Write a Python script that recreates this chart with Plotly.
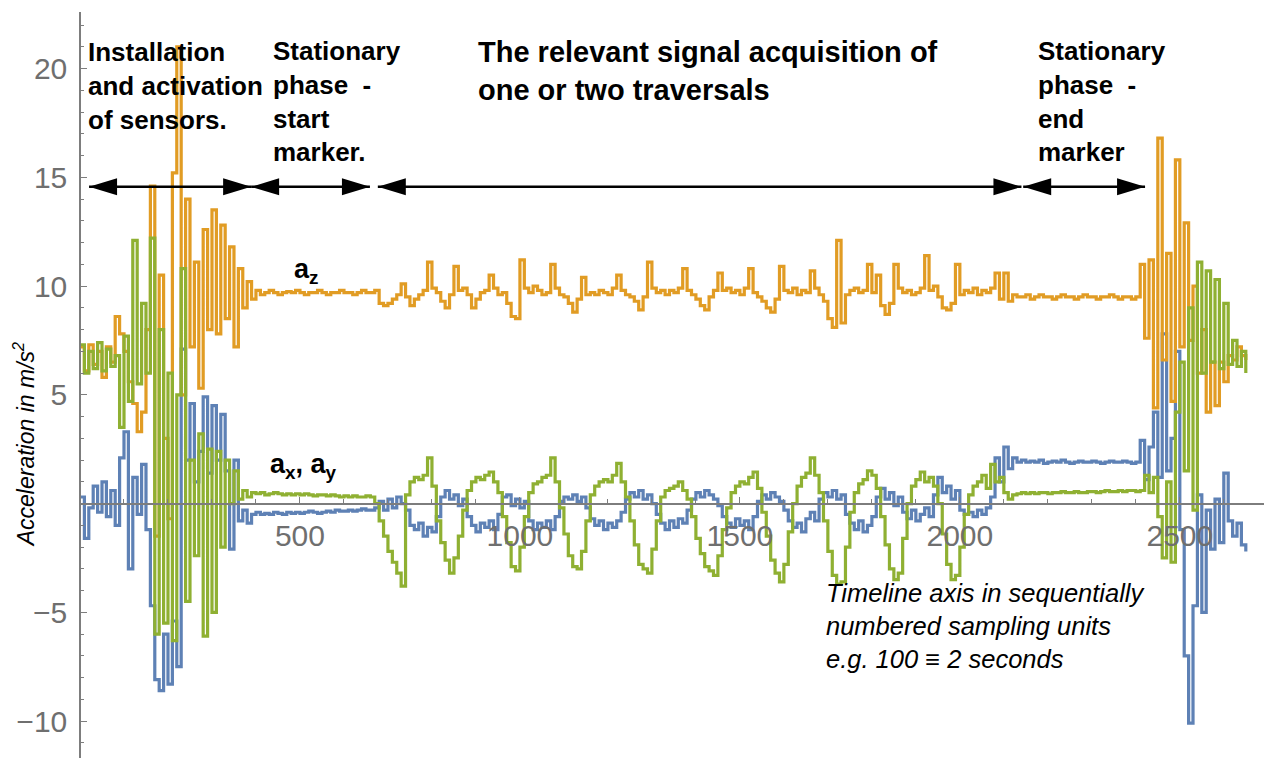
import plotly.graph_objects as go

# sample numbers (every 10th sampling unit)
sample_index = list(range(0, 2660, 10))

# a_z (orange)
az_values = [
    7.2, 6.1, 7.3, 6.4, 7.0, 5.8, 7.2, 6.5, 8.6, 7.8,
    7.0, 5.6, 4.6, 3.3, 4.2, 8.0, 14.6, -1.5, 10.5, 3.0,
    -0.7, 15.2, 21.0, 5.0, 14.0, 7.2, 11.1, 5.3, 12.6, 8.0,
    13.5, 7.8, 12.8, 8.5, 11.8, 7.2, 10.8, 9.0, 10.2, 9.4,
    9.8, 9.6, 9.7, 9.8, 9.7, 9.6, 9.7, 9.75, 9.7, 9.8,
    9.7, 9.6, 9.7, 9.7, 9.8, 9.7, 9.6, 9.7, 9.7, 9.8,
    9.7, 9.7, 9.6, 9.7, 9.8, 9.7, 9.7, 9.8, 9.2, 9.1,
    9.2, 9.4, 9.6, 10.1, 9.5, 9.1, 9.4, 9.6, 9.8, 11.1,
    9.9, 9.7, 9.3, 9.0, 9.6, 10.9, 9.8, 9.9, 9.6, 9.0,
    9.4, 9.7, 9.8, 10.5, 9.9, 9.6, 9.7, 9.2, 8.6, 8.5,
    11.2, 9.9, 9.7, 10.0, 9.8, 9.6, 9.7, 11.0, 9.9, 9.6,
    9.5, 9.2, 8.8, 9.4, 10.4, 9.6, 9.7, 9.6, 9.8, 9.7,
    9.6, 9.9, 10.5, 9.8, 9.6, 9.5, 9.3, 8.9, 9.5, 11.1,
    9.9, 9.7, 9.8, 9.6, 9.8, 9.7, 9.9, 10.8, 9.8, 9.6,
    9.4, 9.1, 8.9, 9.5, 9.8, 10.6, 9.8, 9.9, 9.7, 9.8,
    9.6, 9.9, 10.8, 9.7, 9.5, 9.3, 9.0, 8.8, 9.4, 10.9,
    9.8, 9.7, 9.9, 9.6, 9.8, 9.7, 10.7, 9.9, 9.6, 9.3,
    8.5, 8.1, 12.1, 8.3, 9.6, 9.8, 9.9, 9.7, 9.8, 11.0,
    9.7, 10.5, 9.1, 8.7, 9.2, 11.0, 9.9, 9.7, 9.8, 9.6,
    9.7, 9.9, 11.4, 9.8, 10.0, 9.5, 9.0, 8.9, 9.2, 11.0,
    9.6, 9.8, 9.7, 9.9, 9.6, 9.8, 9.7, 9.9, 10.6, 9.4,
    10.6, 9.3, 9.6, 9.5, 9.5, 9.6, 9.4, 9.5, 9.6, 9.5,
    9.5, 9.4, 9.5, 9.6, 9.5, 9.5, 9.4, 9.5, 9.6, 9.5,
    9.5, 9.4, 9.5, 9.5, 9.6, 9.5, 9.4, 9.5, 9.5, 9.4,
    9.5, 11.0, 7.6, 11.2, 4.4, 16.8, 6.6, 11.5, 4.7, 15.8,
    7.2, 12.9, 7.5, 10.0, 6.0, 8.0, 4.2, 6.5, 4.5, 6.5,
    5.6, 6.8, 6.6, 7.2, 6.8, 6.6,
]

# a_x (blue)
ax_values = [
    0.3, -1.6, -0.2, 0.8, -0.4, 1.0, -0.6, 0.6, -1.0, 2.1,
    3.3, -3.0, 1.2, -0.5, 1.8, -1.2, -4.7, -8.1, -8.6, -6.0,
    -8.3, -5.4, -7.5, 7.1, 2.0, 4.6, 1.0, 2.4, 4.9, 1.4,
    4.5, 2.0, 4.1, 1.5, -2.1, 2.0, -0.8, -0.3, -0.9, -0.5,
    -0.4, -0.5, -0.45, -0.5, -0.4, -0.45, -0.5, -0.4, -0.45, -0.4,
    -0.45, -0.4, -0.35, -0.4, -0.45, -0.4, -0.35, -0.4, -0.3, -0.35,
    -0.35, -0.3, -0.35, -0.3, -0.25, -0.3, -0.3, -0.2, 0.1, -0.3,
    0.2, -0.2, 0.3, 0.0, -0.3, -1.0, -1.2, -0.9, -1.5, -1.1,
    -1.3, -0.6, 0.3, 0.6, 0.2, 0.4, -0.1, 0.2, -0.6, -1.0,
    -1.3, -0.9, -1.1, -0.8, -1.2, -0.5, 0.3, 0.4, -0.1, 0.2,
    -0.2, 0.1, -0.8, -1.2, -0.9, -1.1, -0.8, -1.2, -0.6, 0.1,
    0.3, 0.2, 0.4, 0.1, 0.3, -0.2, -0.7, -1.0, -0.8, -1.2,
    -0.9, -1.1, -0.8, -0.4, 0.2, 0.5, 0.3, 0.6, 0.2, 0.4,
    0.0, -0.5, -0.9, -1.2, -0.8, -1.1, -0.7, -0.9, -0.3, 0.2,
    0.5, 0.3, 0.6, 0.4, 0.2, -0.1, -0.6, -0.9, -1.1, -0.7,
    -1.0, -0.8, -1.2, -0.6, 0.1, 0.4, 0.2, 0.5, 0.3, 0.1,
    -0.3, -0.8, -1.1, -0.9, -1.3, -0.7, -0.4, -0.8, 0.2, 0.5,
    0.3, 0.6, 0.2, 0.4, -0.5, -0.9, -1.2, -0.8, -1.3, -1.0,
    -0.6, 0.3, 0.7, 0.2, 0.5, -0.1, 0.3, -0.4, -0.7, -0.3,
    -0.8, -0.5, -0.2, -0.6, 0.4, 1.2, 0.5, 0.8, 0.2, 0.6,
    -0.3, -0.5, -0.4, -0.6, -0.3, -0.5, -0.2, 0.3, 2.1, 1.0,
    2.6, 1.6, 2.1, 1.9, 2.0, 1.9, 1.95, 1.9, 2.0, 1.85,
    1.9, 1.95, 1.9, 2.0, 1.9, 1.85, 1.9, 1.95, 1.9, 1.9,
    1.95, 1.9, 1.85, 1.9, 1.95, 1.9, 1.9, 1.95, 1.9, 1.85,
    1.9, 2.9, 1.1, 2.6, 4.2, 1.2, 7.8, 1.5, 3.0, 7.0,
    -1.2, -7.0, -10.1, -4.7, 0.4, -5.0, -0.3, -2.1, 0.2, -1.8,
    1.4, -0.8, -1.5, -0.9, -1.9, -2.2,
]

# a_y (green)
ay_values = [
    7.3, 6.0, 7.0, 6.2, 7.4, 6.1, 7.1, 6.3, 6.8, 3.5,
    7.7, 4.7, 12.1, 5.5, 9.2, 6.0, 12.2, -6.0, 8.0, -5.5,
    6.0, -6.3, 5.0, 10.8, -4.5, 2.0, -2.4, 3.2, -6.1, 2.5,
    -5.0, 2.4, -2.0, 2.0, 0.0, 1.5, 0.2, 0.6, 0.3, 0.5,
    0.45, 0.5, 0.4, 0.45, 0.5, 0.45, 0.4, 0.45, 0.4, 0.45,
    0.4, 0.45, 0.4, 0.35, 0.4, 0.4, 0.35, 0.4, 0.35, 0.3,
    0.35, 0.3, 0.35, 0.3, 0.3, 0.35, 0.3, 0.0, -0.8, -1.5,
    -2.2, -2.7, -3.2, -3.8, 0.4, 1.0, 1.2, 1.1, 1.3, 2.1,
    0.8, -0.8, -1.8, -2.6, -3.2, -2.5, -1.5, -0.3, 0.6, 1.0,
    1.2, 1.1, 1.3, 1.45, 1.0, 0.5, -0.6, -1.8, -2.9, -3.1,
    -2.0, -0.6, 0.5, 0.9, 1.0, 1.2, 1.3, 2.1, 1.0, -0.2,
    -1.4, -2.4, -2.9, -3.0, -2.2, -0.8, 0.4, 0.8, 1.0, 1.1,
    1.0, 1.3, 1.85, 1.0, 0.3, -0.8, -1.9, -2.8, -3.0, -3.2,
    -2.1, -0.8, 0.3, 0.6, 0.7, 0.8, 1.0, 0.6, 0.2, -0.6,
    -1.6, -2.3, -2.9, -3.1, -3.3, -2.4, -1.2, -0.2, 0.5, 0.8,
    1.0, 0.9, 1.2, 1.45, 0.7, -0.4, -1.5, -2.6, -3.2, -3.6,
    -2.8, -1.3, 0.0, 0.8, 1.2, 1.4, 2.1, 1.3, 0.5, -0.8,
    -2.2, -3.3, -3.7, -3.6, -2.0, -0.4, 0.5, 0.9, 1.1, 1.5,
    1.3, 0.7, -0.6, -1.9, -3.0, -3.5, -3.2, -1.6, 0.0, 0.8,
    1.1, 1.45, 1.0, 1.2, 0.8, 0.0, -1.4, -2.8, -3.5, -3.3,
    -2.0, -0.5, 0.4, 0.8, 1.0, 1.3, 0.7, 1.8, 1.0, 1.2,
    0.5, 0.2, 0.4, 0.45, 0.5, 0.45, 0.5, 0.45, 0.5, 0.5,
    0.45, 0.5, 0.5, 0.55, 0.5, 0.5, 0.55, 0.5, 0.5, 0.55,
    0.55, 0.5, 0.55, 0.6, 0.55, 0.55, 0.6, 0.55, 0.6, 0.6,
    0.55, 0.6, 1.3, 0.5, 1.2, -0.6, -2.5, 1.0, -2.7, 4.2,
    6.5, 1.5, 9.0, -0.3, 11.1, 6.0, 10.7, 6.5, 10.3, 6.2,
    9.2, 6.4, 7.5, 6.3, 7.0, 6.0,
]

# phase arrows (start, end in sampling units) at height 14.56
arrow_spans = [(20.6, 389), (389, 659), (677, 2140), (2144, 2421)]
arrow_y = 14.56

series = [
    ("a_x", ax_values, "#5E81B5"),
    ("a_z", az_values, "#E19C24"),
    ("a_y", ay_values, "#8FB032"),
]

FONT = "Liberation Sans, Arial, sans-serif"
X_RANGE = [0, 2705]
Y_RANGE = [-11.7, 22.6]

fig = go.Figure()
for name, vals, color in series:
    fig.add_trace(go.Scatter(
        x=sample_index, y=vals, mode="lines", name=name,
        line=dict(color=color, width=3.2, shape="hv"),
        showlegend=False, hoverinfo="skip",
    ))

shapes = []
for x0, x1 in arrow_spans:
    shapes.append(dict(type="line", xref="x", yref="y", x0=x0, x1=x1,
                       y0=arrow_y, y1=arrow_y,
                       line=dict(color="black", width=2.5), layer="above"))
    shapes.append(dict(type="path", xref="x", yref="y", xsizemode="pixel",
                       ysizemode="pixel", xanchor=x0, yanchor=arrow_y,
                       path="M0,0 L28,8.5 L28,-8.5 Z", fillcolor="black",
                       line=dict(width=0), layer="above"))
    shapes.append(dict(type="path", xref="x", yref="y", xsizemode="pixel",
                       ysizemode="pixel", xanchor=x1, yanchor=arrow_y,
                       path="M0,0 L-28,8.5 L-28,-8.5 Z", fillcolor="black",
                       line=dict(width=0), layer="above"))

# screen pixel -> paper coordinates (plot area spans 80..1262 x 12..750 on screen)
def pxx(px):
    return (px - 80) / 1182.0

def pxy(py):
    return (750 - py) / 738.0

bold = dict(family=FONT, size=26, color="black")
annotations = [
    dict(text="<b>Installation<br>and activation<br>of sensors.</b>",
         x=pxx(86), y=pxy(85), font=bold),
    dict(text="<b>Stationary<br>phase  -<br>start<br>marker.</b>",
         x=pxx(270), y=pxy(101), font=bold),
    dict(text="<b>The relevant signal acquisition of<br>one or two traversals</b>",
         x=pxx(473), y=pxy(70), font=dict(family=FONT, size=29, color="black")),
    dict(text="<b>Stationary<br>phase  -<br>end<br>marker</b>",
         x=pxx(1030), y=pxy(101), font=bold),
    dict(text="<b>a<sub>z</sub></b>", x=pxx(291), y=pxy(268),
         font=dict(family=FONT, size=27, color="black")),
    dict(text="<b>a<sub>x</sub>, a<sub>y</sub></b>", x=pxx(267), y=pxy(461),
         font=dict(family=FONT, size=27, color="black")),
    dict(text="<i>Timeline axis in sequentially<br>numbered sampling units<br>e.g. 100 \u2261 2 seconds</i>",
         x=pxx(819), y=pxy(619), font=dict(family=FONT, size=25.5, color="black")),
]
annos = []
for a in annotations:
    a.update(xref="paper", yref="paper", xanchor="left", yanchor="middle",
             align="left", showarrow=False)
    annos.append(a)
annos.append(dict(text="<i>Acceleration in m/s<sup>2</sup></i>", xref="paper", yref="paper",
                  x=pxx(24), y=pxy(440), xanchor="center", yanchor="middle",
                  textangle=-90, showarrow=False,
                  font=dict(family=FONT, size=23, color="black")))

tickfont = dict(family=FONT, size=30, color="#6f6f6f")
axcolor = "#7d7d7d"
zero_pos = (0 - Y_RANGE[0]) / (Y_RANGE[1] - Y_RANGE[0])

fig.update_layout(
    width=1264, height=753,
    margin=dict(l=72, r=2, t=4, b=3),
    paper_bgcolor="white", plot_bgcolor="white",
    shapes=shapes, annotations=annos,
    xaxis=dict(range=X_RANGE, anchor="free", position=zero_pos,
               showgrid=False, zeroline=False, showline=True,
               linecolor=axcolor, linewidth=1.5, ticks="inside", ticklen=6,
               tickwidth=1.2, tickcolor=axcolor, dtick=500, tick0=0,
               labelalias={"0": ""}, tickfont=tickfont, ticklabelstandoff=6,
               layer="above traces",
               minor=dict(ticks="inside", ticklen=3.5, dtick=100,
                          tickcolor=axcolor, tickwidth=1)),
    yaxis=dict(range=Y_RANGE, anchor="free", position=0,
               showgrid=False, zeroline=False, showline=True,
               linecolor=axcolor, linewidth=1.5, ticks="inside", ticklen=6,
               tickwidth=1.2, tickcolor=axcolor, dtick=5, tick0=0,
               labelalias={"0": ""}, tickfont=tickfont, ticklabelstandoff=6,
               layer="above traces",
               minor=dict(ticks="inside", ticklen=3.5, dtick=1,
                          tickcolor=axcolor, tickwidth=1)),
)

fig.write_html("out.html")
